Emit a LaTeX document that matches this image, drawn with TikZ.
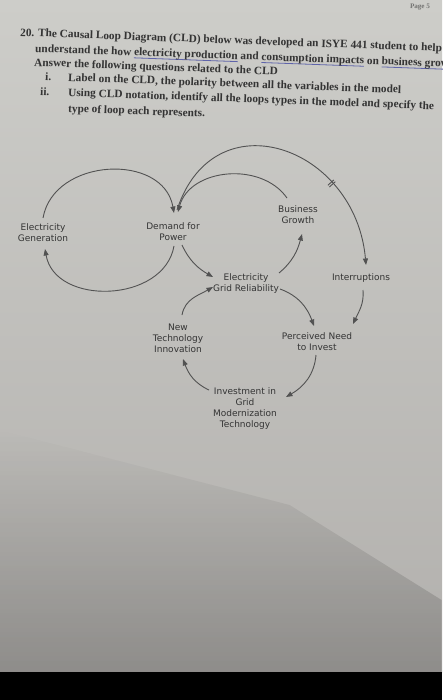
\documentclass[tikz,border=0pt]{standalone}
\usepackage{fontspec}
\newfontfamily\cldfont{DejaVu Sans}
\newfontfamily\qfont{Liberation Serif}
\usetikzlibrary{arrows.meta,fadings}
\definecolor{paperhi}{RGB}{205,205,201}
\definecolor{paperlo}{RGB}{178,176,173}
\definecolor{ink}{RGB}{52,52,52}
\definecolor{wire}{RGB}{82,82,82}
\definecolor{spell}{RGB}{95,100,170}
\newcommand\spellul[1]{\setbox0\hbox{#1}\rlap{\color{spell}\rule[-2.6pt]{\wd0}{0.8pt}}\box0\relax}
\newcommand\lagmark{\rule[-4pt]{0.9pt}{8pt}\hspace{1.4pt}\rule[-4pt]{0.9pt}{8pt}}

\begin{document}
\begin{tikzpicture}[x=1pt,y=1pt,>={Triangle[length=6.5pt,width=5pt]},
      var/.style={font=\cldfont\fontsize{9}{11}\selectfont,text=ink,align=center,inner sep=0pt},
      qline/.style={font=\qfont\bfseries\fontsize{11.3}{13}\selectfont,text=ink,anchor=base west,inner sep=0pt,rotate=-2.1},
      link/.style={draw=wire,line width=0.9pt,->},
      delay/.style={sloped,inner sep=0pt,text=wire}]
      \useasboundingbox (0,0) rectangle (442,-700);
      \fill[top color=paperhi,bottom color=paperlo] (0,0) rectangle (442,-672);
      \fill[black,fill opacity=0.2,path fading=north] (0,-430) -- (290,-505) -- (442,-600) -- (442,-672) -- (0,-672) -- cycle;
      \fill[black] (0,-672) rectangle (442,-700);

      \node[qline,font=\qfont\bfseries\fontsize{7}{8}\selectfont,text opacity=0.6] (page) at (410,-8) {Page 5};
      \node[qline] (q1) at (20,-36) {20. The Causal Loop Diagram (CLD) below was developed an ISYE 441 student to help};
      \node[qline] (q2) at (35,-52) {understand the how \spellul{electricity production} and \spellul{consumption impacts} on \spellul{business growth}};
      \node[qline] (q3) at (34,-66) {Answer the following questions related to the CLD};
      \node[qline] (qi) at (45,-80) {i.};
      \node[qline] (q4) at (68,-81) {Label on the CLD, the polarity between all the variables in the model};
      \node[qline] (qii) at (40,-95) {ii.};
      \node[qline] (q5) at (68,-96) {Using CLD notation, identify all the loops types in the model and specify the};
      \node[qline] (q6) at (68,-112) {type of loop each represents.};

      \node[var] (gen) at (43,-233) {Electricity\\Generation};
      \node[var] (dem) at (173,-232) {Demand for\\Power};
      \node[var] (biz) at (298,-215) {Business\\Growth};
      \node[var] (grid) at (246,-284) {Electricity\\Grid Reliability};
      \node[var] (intr) at (361,-278) {Interruptions};
      \node[var] (tech) at (178,-338) {New\\Technology\\Innovation};
      \node[var] (need) at (317,-342) {Perceived Need\\to Invest};
      \node[var] (inv) at (245,-409) {Investment in\\Grid\\Modernization\\Technology};

      \draw[link] ([shift={(0,15)}]gen.center) to[out=80,in=100,looseness=1.2] ([shift={(1,19)}]dem.center);
      \draw[link] ([shift={(1,-14)}]dem.center) to[out=-100,in=-80,looseness=1.15] ([shift={(2,-16)}]gen.center);
      \draw[link] ([shift={(-11,17)}]biz.center) to[out=125,in=75,looseness=1.05] ([shift={(5,20)}]dem.center);
      \draw[link] ([shift={(4,22)}]dem.center) to[out=72,in=95,looseness=1.55] node[delay,pos=0.72] (lag) {\lagmark} ([shift={(5,13)}]intr.center);
      \draw[link] ([shift={(9,-13)}]dem.center) to[out=-65,in=150] ([shift={(-33,7)}]grid.center);
      \draw[link] ([shift={(33,11)}]grid.center) to[out=40,in=-105] ([shift={(4,-19)}]biz.center);
      \draw[link] ([shift={(34,-5)}]grid.center) to[out=-20,in=110] ([shift={(-3,16)}]need.center);
      \draw[link] ([shift={(2,-12)}]intr.center) to[out=-85,in=65] ([shift={(36,18)}]need.center);
      \draw[link] ([shift={(-1,-13)}]need.center) to[out=-95,in=30] ([shift={(41,12)}]inv.center);
      \draw[link] ([shift={(-36,19)}]inv.center) to[out=155,in=-70] ([shift={(5,-21)}]tech.center);
      \draw[link] ([shift={(4,23)}]tech.center) to[out=80,in=-150] ([shift={(-33,-3)}]grid.center);
    \end{tikzpicture}
\end{document}
